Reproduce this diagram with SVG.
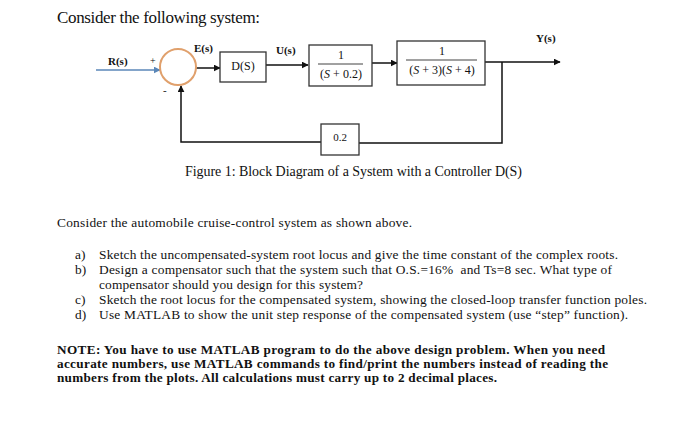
<svg xmlns="http://www.w3.org/2000/svg" width="700" height="424" viewBox="0 0 700 424">
<style>
text{font-family:"Liberation Serif","Times New Roman",serif;fill:#111}
.lbl{font-size:11px;font-weight:bold}
.blk{fill:#fff;stroke:#333;stroke-width:1.3}
.ln{fill:none;stroke:#111;stroke-width:1.5}
.body{font-size:13.4px}
.note{font-size:13.2px;font-weight:bold}
.it{font-style:italic}
</style>
<defs>
<marker id="ah" viewBox="0 0 10 10" refX="9" refY="5" markerWidth="7" markerHeight="7" markerUnits="userSpaceOnUse" orient="auto"><path d="M0,0 L10,5 L0,10 z" fill="#111"/></marker>
<marker id="ahb" viewBox="0 0 10 10" refX="9" refY="5" markerWidth="7" markerHeight="7" markerUnits="userSpaceOnUse" orient="auto"><path d="M0,0 L10,5 L0,10 z" fill="#5b87b8"/></marker>
</defs>
<rect width="700" height="424" fill="#fff"/>
<text x="57" y="23" font-size="17" textLength="203">Consider the following system:</text>

<g id="connectors">
<path d="M96,70 L160,70" fill="none" stroke="#5b87b8" stroke-width="1.5" marker-end="url(#ahb)"/>
<path class="ln" d="M196,68 L220,68" marker-end="url(#ah)"/>
<path class="ln" d="M266,65 L308,65" marker-end="url(#ah)"/>
<path class="ln" d="M372,63 L397,63" marker-end="url(#ah)"/>
<path class="ln" d="M485,62 L560,62" marker-end="url(#ah)"/>
<path class="ln" d="M502,62 L502,143 L359,143"/>
<path class="ln" d="M321,142 L181,142 L181,86" marker-end="url(#ah)"/>
</g>

<g id="labels">
<text class="lbl" x="108" y="65">R(s)</text>
<text x="150" y="64" font-size="10" font-family="Liberation Sans,sans-serif">+</text>
<text x="163" y="94" font-size="11" font-family="Liberation Sans,sans-serif">-</text>
<text class="lbl" x="194" y="52">E(s)</text>
<text class="lbl" x="276" y="54">U(s)</text>
<text class="lbl" x="536" y="42">Y(s)</text>
</g>

<g id="sum">
<circle cx="178" cy="67" r="18" fill="#fff" stroke="#e0a06c" stroke-width="2"/>
</g>

<g id="D">
<rect class="blk" x="220" y="52" width="46" height="30"/>
<text x="243" y="70" font-size="12" text-anchor="middle">D(S)</text>
</g>

<g id="G1">
<rect class="blk" x="309" y="45" width="63" height="41"/>
<text x="341" y="59" font-size="12" text-anchor="middle">1</text>
<line x1="318" y1="64" x2="363" y2="64" stroke="#111" stroke-width="0.8"/>
<text x="341" y="78" font-size="12" text-anchor="middle">(<tspan class="it">S</tspan> + 0.2)</text>
</g>

<g id="G2">
<rect class="blk" x="397" y="41" width="88" height="44"/>
<text x="442" y="55" font-size="12" text-anchor="middle">1</text>
<line x1="406" y1="60" x2="477" y2="60" stroke="#111" stroke-width="0.8"/>
<text x="442" y="74" font-size="12" text-anchor="middle">(<tspan class="it">S</tspan> + 3)(<tspan class="it">S</tspan> + 4)</text>
</g>

<g id="H">
<rect class="blk" x="321" y="124" width="38" height="31"/>
<text x="340" y="141" font-size="11" text-anchor="middle">0.2</text>
</g>

<text x="185" y="176" font-size="14" textLength="337">Figure 1: Block Diagram of a System with a Controller D(S)</text>

<text class="body" x="57" y="227" textLength="355">Consider the automobile cruise-control system as shown above.</text>
<text class="body" x="75" y="259">a)</text>
<text class="body" x="99" y="259" textLength="519">Sketch the uncompensated-system root locus and give the time constant of the complex roots.</text>
<text class="body" x="75" y="274">b)</text>
<text class="body" x="99" y="274" textLength="513" xml:space="preserve">Design a compensator such that the system such that O.S.=16%  and Ts=8 sec. What type of</text>
<text class="body" x="99" y="289" textLength="264">compensator should you design for this system?</text>
<text class="body" x="75" y="304">c)</text>
<text class="body" x="99" y="304" textLength="548">Sketch the root locus for the compensated system, showing the closed-loop transfer function poles.</text>
<text class="body" x="75" y="319">d)</text>
<text class="body" x="99" y="319" textLength="529">Use MATLAB to show the unit step response of the compensated system (use “step” function).</text>

<text class="note" x="57" y="354" textLength="548">NOTE: You have to use MATLAB program to do the above design problem. When you need</text>
<text class="note" x="57" y="368" textLength="551">accurate numbers, use MATLAB commands to find/print the numbers instead of reading the</text>
<text class="note" x="57" y="382" textLength="440">numbers from the plots. All calculations must carry up to 2 decimal places.</text>
</svg>
